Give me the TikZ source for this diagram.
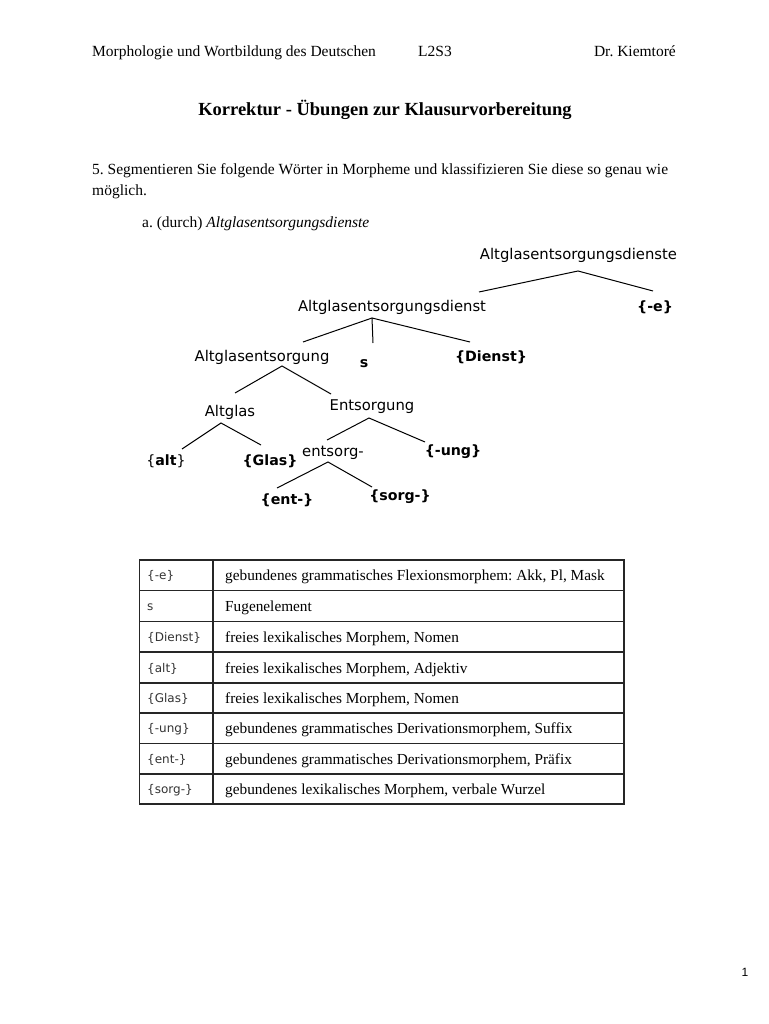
\documentclass[tikz,border=0pt]{standalone}
\usepackage{fontspec}
\setmainfont{Liberation Serif}
\newfontfamily\treefont{DejaVu Sans}
\newfontfamily\arialfont{Liberation Sans}
\frenchspacing
\begin{document}
\begin{tikzpicture}[x=1pt,y=-1pt,
  hdr/.style={inner sep=0, anchor=base west, font=\fontsize{15.5}{18}\selectfont},
  tw/.style={inner sep=0, font=\treefont\fontsize{14.8}{17}\selectfont},
  tb/.style={inner sep=0, font=\treefont\bfseries\fontsize{14.2}{17}\selectfont},
  tl/.style={line width=1pt},
  grid/.style={line width=1.1pt, draw=black!85},
  lcol/.style={inner sep=0, anchor=base west, text=black!80, font=\treefont\fontsize{12}{14}\selectfont},
  rcol/.style={inner sep=0, anchor=base west, font=\fontsize{15.3}{18}\selectfont}]
\useasboundingbox (0,0) rectangle (768,1024);
\fill[white] (0,0) rectangle (768,1024);

% header
\node[hdr] (h1) at (92,57) {Morphologie und Wortbildung des Deutschen};
\node[hdr] (h2) at (418,57) {L2S3};
\node[hdr, anchor=base east] (h3) at (676,57) {Dr. Kiemtoré};
\node[inner sep=0, anchor=base, font=\bfseries\fontsize{18.5}{22}\selectfont] (title) at (385,116) {Korrektur - Übungen zur Klausurvorbereitung};

% task
\node[hdr] (q1) at (92,175) {5. Segmentieren Sie folgende Wörter in Morpheme und klassifizieren Sie diese so genau wie};
\node[hdr] (q2) at (92,196) {möglich.};
\node[hdr] (qa) at (142,227) {a. (durch) \textit{Altglasentsorgungsdienste}};

% tree nodes
\node[tw] (root) at (578.5,255) {Altglasentsorgungsdienste};
\node[tw] (n1) at (392,307) {Altglasentsorgungsdienst};
\node[tb] (e) at (655,307) {\{-e\}};
\node[tw] (n2) at (262,357) {Altglasentsorgung};
\node[tb] (s) at (364,364) {s};
\node[tb] (dienst) at (491,357) {\{Dienst\}};
\node[tw] (altglas) at (230,412) {Altglas};
\node[tw] (entsorgung) at (372,407) {Entsorgung};
\node[tb] (alt) at (166,461) {{\mdseries\{}alt{\mdseries\}}};
\node[tb] (glas) at (270,461) {\{Glas\}};
\node[tw] (entsorg) at (333,453) {entsorg-};
\node[tb] (ung) at (453,452) {\{-ung\}};
\node[tb] (ent) at (287,500) {\{ent-\}};
\node[tb] (sorg) at (400,497) {\{sorg-\}};

% tree branch points
\coordinate (rootA) at (578,271);
\coordinate (rootL) at (479,292);
\coordinate (rootR) at (653,291);
\coordinate (n1A) at (372,318);
\coordinate (n1L) at (303,342);
\coordinate (n1M) at (373,343);
\coordinate (n1R) at (470,342);
\coordinate (n2A) at (282,366);
\coordinate (n2L) at (235,393);
\coordinate (n2R) at (331,394);
\coordinate (agA) at (221,423);
\coordinate (agL) at (182,449);
\coordinate (agR) at (261,445);
\coordinate (esA) at (369,418);
\coordinate (esL) at (327,440);
\coordinate (esR) at (425,442);
\coordinate (egA) at (328,462);
\coordinate (egL) at (277,488);
\coordinate (egR) at (372,487);

\draw[tl] (rootL) -- (rootA) -- (rootR);
\draw[tl] (n1L) -- (n1A) -- (n1R);
\draw[tl] (n1A) -- (n1M);
\draw[tl] (n2L) -- (n2A) -- (n2R);
\draw[tl] (agL) -- (agA) -- (agR);
\draw[tl] (esL) -- (esA) -- (esR);
\draw[tl] (egL) -- (egA) -- (egR);

% table
\draw[grid] (139.5,560) rectangle (624,804);
\draw[grid] (213,560) -- (213,804);
\foreach \yy in {590.5,621.5,652,683,713,743.5} {\draw[grid] (139.5,\yy) -- (624,\yy);}
\draw[line width=2.2pt, draw=black!85] (139.5,774) -- (624,774);

\node[lcol] (k1) at (147,579.5) {\{-e\}};
\node[lcol] (k2) at (147,610.5) {s};
\node[lcol] (k3) at (147,641) {\{Dienst\}};
\node[lcol] (k4) at (147,672) {\{alt\}};
\node[lcol] (k5) at (147,702.5) {\{Glas\}};
\node[lcol] (k6) at (147,732.5) {\{-ung\}};
\node[lcol] (k7) at (147,763) {\{ent-\}};
\node[lcol] (k8) at (147,793.5) {\{sorg-\}};

\node[rcol] (v1) at (225,580.5) {gebundenes grammatisches Flexionsmorphem: Akk, Pl, Mask};
\node[rcol] (v2) at (225,611.5) {Fugenelement};
\node[rcol] (v3) at (225,642) {freies lexikalisches Morphem, Nomen};
\node[rcol] (v4) at (225,673) {freies lexikalisches Morphem, Adjektiv};
\node[rcol] (v5) at (225,703.5) {freies lexikalisches Morphem, Nomen};
\node[rcol] (v6) at (225,733.5) {gebundenes grammatisches Derivationsmorphem, Suffix};
\node[rcol] (v7) at (225,764) {gebundenes grammatisches Derivationsmorphem, Präfix};
\node[rcol] (v8) at (225,794.5) {gebundenes lexikalisches Morphem, verbale Wurzel};

% page number
\node[inner sep=0, font=\arialfont\fontsize{12}{14}\selectfont] (pg) at (745,972) {1};
\end{tikzpicture}
\end{document}
